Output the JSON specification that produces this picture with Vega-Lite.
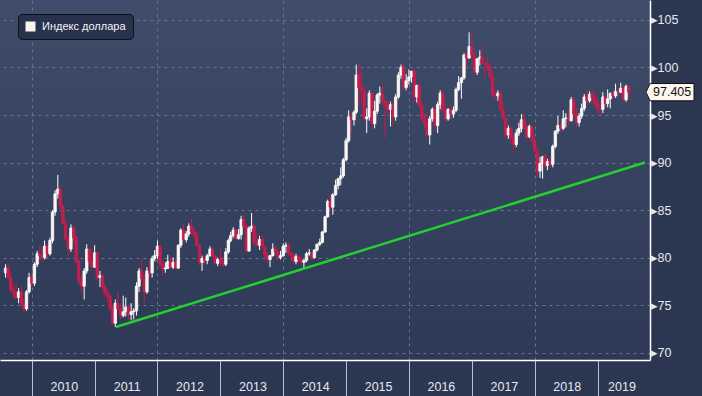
{
  "$schema": "https://vega.github.io/schema/vega-lite/v6.json",
  "width": 650,
  "height": 360,
  "autosize": {"type": "none"},
  "padding": {"left": 0, "top": 0, "right": 52, "bottom": 36},
  "background": "#2b3651",
  "config": {
    "font": "Liberation Sans",
    "view": {"stroke": null, "fill": {"gradient": "linear", "x1": 0, "y1": 0, "x2": 0, "y2": 1, "stops": [{"offset": 0, "color": "#3f4c6a"}, {"offset": 1, "color": "#2d3955"}]}},
    "axisY": {
      "orient": "right", "title": null,
      "values": [70, 72.5, 75, 77.5, 80, 82.5, 85, 87.5, 90, 92.5, 95, 97.5, 100, 102.5, 105],
      "domainColor": "#ffffff", "domainWidth": 1.5,
      "tickColor": "#ffffff",
      "labelPadding": 0,
      "labelFont": "Liberation Sans", "labelFontSize": 12.5, "labelColor": "#e6e9ef",
      "grid": true, "gridDash": [3, 4],
      "labelBound": false, "labelOverlap": false, "labelFlush": false
    }
  },
  "data": {"values": [
    {"d":"2009-08-01","o":78.4,"h":79.3,"l":77.9,"c":78.9},
    {"d":"2009-08-16","o":78.9,"h":79.4,"l":77.6,"c":77.9},
    {"d":"2009-09-01","o":77.9,"h":78.5,"l":76.3,"c":76.6},
    {"d":"2009-09-16","o":76.6,"h":77.2,"l":75.8,"c":76.3},
    {"d":"2009-10-01","o":76.3,"h":77.3,"l":75.6,"c":75.8},
    {"d":"2009-10-16","o":75.8,"h":76.8,"l":75.2,"c":76.4},
    {"d":"2009-11-01","o":76.4,"h":76.9,"l":74.9,"c":75.1},
    {"d":"2009-11-16","o":75.1,"h":75.7,"l":74.2,"c":74.6},
    {"d":"2009-12-01","o":74.6,"h":76.6,"l":74.4,"c":76.4},
    {"d":"2009-12-16","o":76.4,"h":78.4,"l":76.2,"c":77.9},
    {"d":"2010-01-01","o":77.9,"h":78.3,"l":76.9,"c":77.3},
    {"d":"2010-01-16","o":77.3,"h":79.5,"l":77.0,"c":79.3},
    {"d":"2010-02-01","o":79.3,"h":80.7,"l":79.0,"c":80.4},
    {"d":"2010-02-16","o":80.4,"h":81.3,"l":79.8,"c":80.2},
    {"d":"2010-03-01","o":80.2,"h":81.0,"l":79.6,"c":80.0},
    {"d":"2010-03-16","o":80.0,"h":81.8,"l":79.8,"c":81.2},
    {"d":"2010-04-01","o":81.2,"h":81.4,"l":80.0,"c":80.4},
    {"d":"2010-04-16","o":80.4,"h":82.1,"l":80.2,"c":81.8},
    {"d":"2010-05-01","o":81.8,"h":85.0,"l":81.5,"c":84.8},
    {"d":"2010-05-16","o":84.8,"h":87.1,"l":84.4,"c":86.7},
    {"d":"2010-06-01","o":86.7,"h":88.7,"l":86.2,"c":87.2},
    {"d":"2010-06-16","o":87.2,"h":87.5,"l":85.1,"c":85.4},
    {"d":"2010-07-01","o":85.4,"h":85.6,"l":83.4,"c":83.6},
    {"d":"2010-07-16","o":83.6,"h":84.0,"l":81.8,"c":82.0},
    {"d":"2010-08-01","o":82.0,"h":82.3,"l":80.1,"c":80.9},
    {"d":"2010-08-16","o":80.9,"h":83.5,"l":80.6,"c":83.1},
    {"d":"2010-09-01","o":83.1,"h":83.3,"l":81.5,"c":82.1},
    {"d":"2010-09-16","o":82.1,"h":82.4,"l":79.4,"c":79.6},
    {"d":"2010-10-01","o":79.6,"h":79.9,"l":77.2,"c":77.5},
    {"d":"2010-10-16","o":77.5,"h":78.2,"l":76.2,"c":77.0},
    {"d":"2010-11-01","o":77.0,"h":78.9,"l":75.6,"c":78.6},
    {"d":"2010-11-16","o":78.6,"h":81.4,"l":78.3,"c":80.9},
    {"d":"2010-12-01","o":80.9,"h":81.0,"l":79.2,"c":79.6},
    {"d":"2010-12-16","o":79.6,"h":80.9,"l":78.9,"c":79.0},
    {"d":"2011-01-01","o":79.0,"h":81.3,"l":78.9,"c":80.5},
    {"d":"2011-01-16","o":80.5,"h":80.6,"l":77.6,"c":77.9},
    {"d":"2011-02-01","o":77.9,"h":78.6,"l":76.9,"c":78.1},
    {"d":"2011-02-16","o":78.1,"h":78.2,"l":76.7,"c":76.9},
    {"d":"2011-03-01","o":76.9,"h":77.2,"l":75.9,"c":76.3},
    {"d":"2011-03-16","o":76.3,"h":76.8,"l":75.3,"c":75.9},
    {"d":"2011-04-01","o":75.9,"h":76.3,"l":74.4,"c":74.6},
    {"d":"2011-04-16","o":74.6,"h":75.0,"l":72.9,"c":73.1},
    {"d":"2011-05-01","o":73.1,"h":75.6,"l":72.7,"c":75.2},
    {"d":"2011-05-16","o":75.2,"h":76.4,"l":74.5,"c":74.6},
    {"d":"2011-06-01","o":74.6,"h":75.2,"l":73.5,"c":73.9},
    {"d":"2011-06-16","o":73.9,"h":76.0,"l":73.7,"c":74.3},
    {"d":"2011-07-01","o":74.3,"h":75.8,"l":73.8,"c":74.8},
    {"d":"2011-07-16","o":74.8,"h":75.1,"l":73.4,"c":74.0},
    {"d":"2011-08-01","o":74.0,"h":75.2,"l":73.4,"c":74.3},
    {"d":"2011-08-16","o":74.3,"h":74.7,"l":73.5,"c":74.4},
    {"d":"2011-09-01","o":74.4,"h":77.4,"l":73.9,"c":77.0},
    {"d":"2011-09-16","o":77.0,"h":78.9,"l":76.4,"c":78.6},
    {"d":"2011-10-01","o":78.6,"h":79.9,"l":77.6,"c":77.8},
    {"d":"2011-10-16","o":77.8,"h":78.3,"l":75.3,"c":76.4},
    {"d":"2011-11-01","o":76.4,"h":79.0,"l":76.2,"c":78.6},
    {"d":"2011-11-16","o":78.6,"h":79.8,"l":77.9,"c":78.4},
    {"d":"2011-12-01","o":78.4,"h":80.2,"l":77.9,"c":79.9},
    {"d":"2011-12-16","o":79.9,"h":80.8,"l":79.6,"c":80.2},
    {"d":"2012-01-01","o":80.2,"h":81.8,"l":79.9,"c":81.2},
    {"d":"2012-01-16","o":81.2,"h":81.4,"l":78.9,"c":79.3},
    {"d":"2012-02-01","o":79.3,"h":79.6,"l":78.1,"c":78.8},
    {"d":"2012-02-16","o":78.8,"h":79.5,"l":78.4,"c":78.9},
    {"d":"2012-03-01","o":78.9,"h":80.3,"l":78.8,"c":79.6},
    {"d":"2012-03-16","o":79.6,"h":80.1,"l":78.9,"c":79.0},
    {"d":"2012-04-01","o":79.0,"h":80.0,"l":78.8,"c":79.5},
    {"d":"2012-04-16","o":79.5,"h":79.8,"l":78.8,"c":78.9},
    {"d":"2012-05-01","o":78.9,"h":81.4,"l":78.8,"c":81.3},
    {"d":"2012-05-16","o":81.3,"h":83.1,"l":81.0,"c":82.9},
    {"d":"2012-06-01","o":82.9,"h":83.5,"l":81.7,"c":81.9},
    {"d":"2012-06-16","o":81.9,"h":82.8,"l":81.6,"c":82.5},
    {"d":"2012-07-01","o":82.5,"h":83.6,"l":82.2,"c":83.3},
    {"d":"2012-07-16","o":83.3,"h":84.1,"l":82.4,"c":82.7},
    {"d":"2012-08-01","o":82.7,"h":83.2,"l":82.0,"c":82.4},
    {"d":"2012-08-16","o":82.4,"h":82.7,"l":81.1,"c":81.3},
    {"d":"2012-09-01","o":81.3,"h":81.4,"l":79.2,"c":79.5},
    {"d":"2012-09-16","o":79.5,"h":80.2,"l":78.6,"c":79.9},
    {"d":"2012-10-01","o":79.9,"h":80.1,"l":79.3,"c":79.7},
    {"d":"2012-10-16","o":79.7,"h":80.4,"l":79.3,"c":80.2},
    {"d":"2012-11-01","o":80.2,"h":81.2,"l":80.1,"c":80.9},
    {"d":"2012-11-16","o":80.9,"h":81.0,"l":80.0,"c":80.2},
    {"d":"2012-12-01","o":80.2,"h":80.3,"l":79.2,"c":79.4},
    {"d":"2012-12-16","o":79.4,"h":80.0,"l":79.1,"c":79.8},
    {"d":"2013-01-01","o":79.8,"h":80.9,"l":79.1,"c":79.6},
    {"d":"2013-01-16","o":79.6,"h":80.1,"l":79.0,"c":79.3},
    {"d":"2013-02-01","o":79.3,"h":81.0,"l":79.1,"c":80.6},
    {"d":"2013-02-16","o":80.6,"h":82.0,"l":80.4,"c":81.8},
    {"d":"2013-03-01","o":81.8,"h":82.7,"l":81.6,"c":82.3},
    {"d":"2013-03-16","o":82.3,"h":83.2,"l":82.1,"c":82.9},
    {"d":"2013-04-01","o":82.9,"h":83.1,"l":81.9,"c":82.0},
    {"d":"2013-04-16","o":82.0,"h":83.0,"l":81.9,"c":82.4},
    {"d":"2013-05-01","o":82.4,"h":84.4,"l":81.9,"c":84.0},
    {"d":"2013-05-16","o":84.0,"h":84.5,"l":83.1,"c":83.3},
    {"d":"2013-06-01","o":83.3,"h":83.5,"l":80.5,"c":80.7},
    {"d":"2013-06-16","o":80.7,"h":83.3,"l":80.6,"c":83.1},
    {"d":"2013-07-01","o":83.1,"h":84.7,"l":82.7,"c":83.3},
    {"d":"2013-07-16","o":83.3,"h":83.5,"l":81.4,"c":81.6},
    {"d":"2013-08-01","o":81.6,"h":82.6,"l":81.2,"c":81.3},
    {"d":"2013-08-16","o":81.3,"h":82.3,"l":80.8,"c":81.9},
    {"d":"2013-09-01","o":81.9,"h":82.4,"l":80.9,"c":81.1},
    {"d":"2013-09-16","o":81.1,"h":81.3,"l":79.9,"c":80.2},
    {"d":"2013-10-01","o":80.2,"h":80.6,"l":79.6,"c":79.8},
    {"d":"2013-10-16","o":79.8,"h":80.3,"l":79.0,"c":80.2},
    {"d":"2013-11-01","o":80.2,"h":81.5,"l":80.1,"c":80.9},
    {"d":"2013-11-16","o":80.9,"h":81.3,"l":80.4,"c":80.6},
    {"d":"2013-12-01","o":80.6,"h":81.0,"l":79.8,"c":80.0},
    {"d":"2013-12-16","o":80.0,"h":80.7,"l":79.8,"c":80.2},
    {"d":"2014-01-01","o":80.2,"h":81.5,"l":80.1,"c":81.2},
    {"d":"2014-01-16","o":81.2,"h":81.6,"l":80.5,"c":81.3},
    {"d":"2014-02-01","o":81.3,"h":81.5,"l":80.2,"c":80.4},
    {"d":"2014-02-16","o":80.4,"h":80.6,"l":79.7,"c":80.2},
    {"d":"2014-03-01","o":80.2,"h":80.5,"l":79.3,"c":79.6},
    {"d":"2014-03-16","o":79.6,"h":80.4,"l":79.3,"c":80.1},
    {"d":"2014-04-01","o":80.1,"h":80.3,"l":79.4,"c":79.8},
    {"d":"2014-04-16","o":79.8,"h":80.1,"l":79.3,"c":79.5},
    {"d":"2014-05-01","o":79.5,"h":79.9,"l":78.9,"c":79.7},
    {"d":"2014-05-16","o":79.7,"h":80.6,"l":79.5,"c":80.4},
    {"d":"2014-06-01","o":80.4,"h":80.9,"l":80.2,"c":80.5},
    {"d":"2014-06-16","o":80.5,"h":80.6,"l":79.8,"c":80.0},
    {"d":"2014-07-01","o":80.0,"h":80.9,"l":79.9,"c":80.8},
    {"d":"2014-07-16","o":80.8,"h":81.5,"l":80.6,"c":81.4},
    {"d":"2014-08-01","o":81.4,"h":82.0,"l":81.2,"c":81.6},
    {"d":"2014-08-16","o":81.6,"h":82.8,"l":81.5,"c":82.7},
    {"d":"2014-09-01","o":82.7,"h":84.4,"l":82.6,"c":84.3},
    {"d":"2014-09-16","o":84.3,"h":86.1,"l":84.2,"c":85.9},
    {"d":"2014-10-01","o":85.9,"h":86.7,"l":84.9,"c":85.3},
    {"d":"2014-10-16","o":85.3,"h":86.8,"l":84.5,"c":86.6},
    {"d":"2014-11-01","o":86.6,"h":88.2,"l":86.5,"c":87.6},
    {"d":"2014-11-16","o":87.6,"h":88.4,"l":87.2,"c":88.3},
    {"d":"2014-12-01","o":88.3,"h":89.5,"l":87.6,"c":88.6},
    {"d":"2014-12-16","o":88.6,"h":90.5,"l":88.4,"c":90.3},
    {"d":"2015-01-01","o":90.3,"h":92.6,"l":90.1,"c":92.3},
    {"d":"2015-01-16","o":92.3,"h":95.5,"l":92.1,"c":94.8},
    {"d":"2015-02-01","o":94.8,"h":95.2,"l":93.2,"c":94.5},
    {"d":"2015-02-16","o":94.5,"h":95.5,"l":93.9,"c":95.3},
    {"d":"2015-03-01","o":95.3,"h":100.3,"l":95.1,"c":99.2},
    {"d":"2015-03-16","o":99.2,"h":100.4,"l":95.9,"c":97.9},
    {"d":"2015-04-01","o":97.9,"h":100.0,"l":96.4,"c":97.6},
    {"d":"2015-04-16","o":97.6,"h":98.1,"l":94.5,"c":94.6},
    {"d":"2015-05-01","o":94.6,"h":95.7,"l":93.1,"c":94.8},
    {"d":"2015-05-16","o":94.8,"h":97.6,"l":94.4,"c":97.3},
    {"d":"2015-06-01","o":97.3,"h":97.4,"l":93.9,"c":94.1},
    {"d":"2015-06-16","o":94.1,"h":96.5,"l":93.6,"c":95.4},
    {"d":"2015-07-01","o":95.4,"h":97.3,"l":95.1,"c":97.1},
    {"d":"2015-07-16","o":97.1,"h":98.0,"l":96.2,"c":97.3},
    {"d":"2015-08-01","o":97.3,"h":98.3,"l":96.0,"c":96.5},
    {"d":"2015-08-16","o":96.5,"h":96.6,"l":92.6,"c":95.9},
    {"d":"2015-09-01","o":95.9,"h":96.5,"l":94.9,"c":95.6},
    {"d":"2015-09-16","o":95.6,"h":96.4,"l":93.8,"c":96.1},
    {"d":"2015-10-01","o":96.1,"h":96.3,"l":94.0,"c":94.8},
    {"d":"2015-10-16","o":94.8,"h":97.2,"l":94.4,"c":96.9},
    {"d":"2015-11-01","o":96.9,"h":99.5,"l":96.7,"c":99.2},
    {"d":"2015-11-16","o":99.2,"h":100.3,"l":98.8,"c":100.0},
    {"d":"2015-12-01","o":100.0,"h":100.5,"l":97.7,"c":97.9},
    {"d":"2015-12-16","o":97.9,"h":99.3,"l":97.6,"c":98.6},
    {"d":"2016-01-01","o":98.6,"h":99.8,"l":98.2,"c":99.0},
    {"d":"2016-01-16","o":99.0,"h":99.6,"l":98.4,"c":99.6},
    {"d":"2016-02-01","o":99.6,"h":99.9,"l":96.3,"c":96.9},
    {"d":"2016-02-16","o":96.9,"h":98.2,"l":96.3,"c":98.1},
    {"d":"2016-03-01","o":98.1,"h":98.3,"l":95.8,"c":96.0},
    {"d":"2016-03-16","o":96.0,"h":96.3,"l":94.5,"c":94.6},
    {"d":"2016-04-01","o":94.6,"h":95.1,"l":93.6,"c":94.1},
    {"d":"2016-04-16","o":94.1,"h":95.3,"l":92.6,"c":92.9},
    {"d":"2016-05-01","o":92.9,"h":94.9,"l":91.9,"c":94.6},
    {"d":"2016-05-16","o":94.6,"h":95.8,"l":94.3,"c":95.6},
    {"d":"2016-06-01","o":95.6,"h":95.9,"l":93.4,"c":93.9},
    {"d":"2016-06-16","o":93.9,"h":96.4,"l":93.1,"c":96.1},
    {"d":"2016-07-01","o":96.1,"h":97.6,"l":95.6,"c":97.3},
    {"d":"2016-07-16","o":97.3,"h":97.6,"l":95.3,"c":95.5},
    {"d":"2016-08-01","o":95.5,"h":96.2,"l":94.4,"c":94.6},
    {"d":"2016-08-16","o":94.6,"h":95.7,"l":94.4,"c":95.6},
    {"d":"2016-09-01","o":95.6,"h":96.0,"l":94.5,"c":95.1},
    {"d":"2016-09-16","o":95.1,"h":95.9,"l":94.7,"c":95.5},
    {"d":"2016-10-01","o":95.5,"h":97.9,"l":95.3,"c":97.7},
    {"d":"2016-10-16","o":97.7,"h":99.1,"l":97.5,"c":98.4},
    {"d":"2016-11-01","o":98.4,"h":99.0,"l":96.7,"c":98.9},
    {"d":"2016-11-16","o":98.9,"h":101.5,"l":98.7,"c":101.3},
    {"d":"2016-12-01","o":101.3,"h":101.6,"l":99.9,"c":101.0},
    {"d":"2016-12-16","o":101.0,"h":103.7,"l":100.9,"c":102.2},
    {"d":"2017-01-01","o":102.2,"h":103.8,"l":100.9,"c":101.3},
    {"d":"2017-01-16","o":101.3,"h":101.6,"l":99.2,"c":99.5},
    {"d":"2017-02-01","o":99.5,"h":101.0,"l":99.2,"c":100.9},
    {"d":"2017-02-16","o":100.9,"h":101.8,"l":100.2,"c":101.1},
    {"d":"2017-03-01","o":101.1,"h":102.3,"l":100.4,"c":100.5},
    {"d":"2017-03-16","o":100.5,"h":100.6,"l":98.8,"c":100.4},
    {"d":"2017-04-01","o":100.4,"h":101.2,"l":99.8,"c":100.1},
    {"d":"2017-04-16","o":100.1,"h":100.5,"l":98.9,"c":99.0},
    {"d":"2017-05-01","o":99.0,"h":99.6,"l":96.9,"c":97.2},
    {"d":"2017-05-16","o":97.2,"h":97.6,"l":96.8,"c":97.0},
    {"d":"2017-06-01","o":97.0,"h":97.6,"l":96.5,"c":97.3},
    {"d":"2017-06-16","o":97.3,"h":97.4,"l":95.4,"c":95.6},
    {"d":"2017-07-01","o":95.6,"h":96.4,"l":94.5,"c":94.7},
    {"d":"2017-07-16","o":94.7,"h":94.9,"l":92.6,"c":92.9},
    {"d":"2017-08-01","o":92.9,"h":93.9,"l":92.5,"c":93.6},
    {"d":"2017-08-16","o":93.6,"h":93.8,"l":91.9,"c":92.6},
    {"d":"2017-09-01","o":92.6,"h":92.9,"l":91.0,"c":91.9},
    {"d":"2017-09-16","o":91.9,"h":93.5,"l":91.6,"c":93.1},
    {"d":"2017-10-01","o":93.1,"h":94.2,"l":92.8,"c":93.6},
    {"d":"2017-10-16","o":93.6,"h":95.1,"l":93.2,"c":94.5},
    {"d":"2017-11-01","o":94.5,"h":95.2,"l":93.4,"c":93.6},
    {"d":"2017-11-16","o":93.6,"h":93.9,"l":92.5,"c":92.7},
    {"d":"2017-12-01","o":92.7,"h":94.0,"l":92.6,"c":93.8},
    {"d":"2017-12-16","o":93.8,"h":94.0,"l":92.1,"c":92.3},
    {"d":"2018-01-01","o":92.3,"h":92.7,"l":91.0,"c":91.3},
    {"d":"2018-01-16","o":91.3,"h":91.6,"l":88.5,"c":89.1},
    {"d":"2018-02-01","o":89.1,"h":90.6,"l":88.4,"c":89.9},
    {"d":"2018-02-16","o":89.9,"h":90.7,"l":88.3,"c":90.6},
    {"d":"2018-03-01","o":90.6,"h":90.9,"l":89.4,"c":89.7},
    {"d":"2018-03-16","o":89.7,"h":90.4,"l":89.2,"c":90.1},
    {"d":"2018-04-01","o":90.1,"h":90.6,"l":89.4,"c":89.8},
    {"d":"2018-04-16","o":89.8,"h":91.9,"l":89.5,"c":91.7},
    {"d":"2018-05-01","o":91.7,"h":93.4,"l":91.5,"c":93.3},
    {"d":"2018-05-16","o":93.3,"h":94.9,"l":93.0,"c":93.9},
    {"d":"2018-06-01","o":93.9,"h":94.1,"l":93.2,"c":93.6},
    {"d":"2018-06-16","o":93.6,"h":95.5,"l":93.4,"c":94.6},
    {"d":"2018-07-01","o":94.6,"h":95.2,"l":93.7,"c":94.7},
    {"d":"2018-07-16","o":94.7,"h":95.6,"l":94.0,"c":94.4},
    {"d":"2018-08-01","o":94.4,"h":96.9,"l":94.3,"c":96.6},
    {"d":"2018-08-16","o":96.6,"h":96.9,"l":94.8,"c":95.1},
    {"d":"2018-09-01","o":95.1,"h":95.8,"l":93.8,"c":94.2},
    {"d":"2018-09-16","o":94.2,"h":95.2,"l":93.8,"c":94.9},
    {"d":"2018-10-01","o":94.9,"h":96.2,"l":94.6,"c":95.7},
    {"d":"2018-10-16","o":95.7,"h":97.2,"l":95.4,"c":96.9},
    {"d":"2018-11-01","o":96.9,"h":97.7,"l":96.1,"c":96.5},
    {"d":"2018-11-16","o":96.5,"h":97.5,"l":96.3,"c":97.2},
    {"d":"2018-12-01","o":97.2,"h":97.7,"l":96.4,"c":96.8},
    {"d":"2018-12-16","o":96.8,"h":97.4,"l":95.8,"c":96.2},
    {"d":"2019-01-01","o":96.2,"h":96.9,"l":95.0,"c":95.8},
    {"d":"2019-01-16","o":95.8,"h":96.4,"l":95.1,"c":95.6},
    {"d":"2019-02-01","o":95.6,"h":97.4,"l":95.2,"c":96.9},
    {"d":"2019-02-16","o":96.9,"h":97.0,"l":95.9,"c":96.2},
    {"d":"2019-03-01","o":96.2,"h":97.7,"l":95.8,"c":96.7},
    {"d":"2019-03-16","o":96.7,"h":97.3,"l":95.7,"c":97.3},
    {"d":"2019-04-01","o":97.3,"h":97.5,"l":96.7,"c":97.0},
    {"d":"2019-04-16","o":97.0,"h":98.3,"l":96.8,"c":97.5},
    {"d":"2019-05-01","o":97.5,"h":98.0,"l":97.0,"c":97.4},
    {"d":"2019-05-16","o":97.4,"h":98.4,"l":97.3,"c":97.8},
    {"d":"2019-06-01","o":97.8,"h":98.0,"l":96.5,"c":96.6},
    {"d":"2019-06-16","o":96.6,"h":98.2,"l":96.4,"c":98.0},
    {"d":"2019-07-01","o":98.0,"h":98.1,"l":96.9,"c":97.4}
  ]},
  "encoding": {
    "x": {
      "field": "d", "type": "temporal",
      "scale": {"domain": [{"year": 2009, "month": 7, "date": 29}, {"year": 2019, "month": 10, "date": 4}]},
      "axis": {
        "title": null, "format": "%Y",
        "values": [{"year":2010,"month":1,"date":1},{"year":2011,"month":1,"date":1},{"year":2012,"month":1,"date":1},{"year":2013,"month":1,"date":1},{"year":2014,"month":1,"date":1},{"year":2015,"month":1,"date":1},{"year":2016,"month":1,"date":1},{"year":2017,"month":1,"date":1},{"year":2018,"month":1,"date":1},{"year":2019,"month":1,"date":1}],
        "domainColor": "#ffffff", "domainWidth": 1.5,
        "tickColor": "#b9bfcb", "tickSize": 36, "tickWidth": 1,
        "labelAlign": "center", "labelBaseline": "alphabetic", "labelPadding": -6,
        "labelOffset": {"condition": {"test": "year(datum.value) == 2019", "value": 24}, "value": 32},
        "labelFont": "Liberation Sans", "labelFontSize": 12.5, "labelColor": "#e6e9ef",
        "grid": true, "gridDash": [3, 4],
        "gridColor": {"condition": {"test": "year(datum.value) % 2 == 1", "value": "transparent"}, "value": "#67738f"},
        "labelBound": false, "labelOverlap": false, "labelFlush": false
      }
    },
    "y": {
      "field": "l", "type": "quantitative",
      "scale": {"domain": [69.23, 107.1], "nice": false, "zero": false},
      "axis": {
        "labelExpr": "datum.value % 5 == 0 ? '▸' + datum.value : ''",
        "tickSize": {"condition": {"test": "datum.value % 5 != 0", "value": 4}, "value": 0},
        "gridColor": {"condition": {"test": "datum.value % 5 != 0", "value": "transparent"}, "value": "#67738f"}
      }
    }
  },
  "layer": [
    {
      "mark": {"type": "rule", "strokeWidth": 1},
      "encoding": {
        "y2": {"field": "h"},
        "color": {"condition": {"test": "datum.c < datum.o", "value": "#c81d4e"}, "value": "#ffffff"}
      }
    },
    {
      "mark": {"type": "bar", "width": 2.4, "strokeWidth": 0.8},
      "encoding": {
        "y": {"field": "o", "type": "quantitative"},
        "y2": {"field": "c"},
        "stroke": {"condition": {"test": "datum.c < datum.o", "value": "#c81d4e"}, "value": "#ffffff"},
        "fill": {
          "condition": {"test": "datum.c < datum.o", "value": "#c81d4e"},
          "datum": "Индекс доллара", "type": "nominal",
          "scale": {"range": ["#fdf4ee"]},
          "legend": {
            "title": null, "orient": "none", "legendX": 18, "legendY": 14,
            "padding": 7, "fillColor": "#28324c", "strokeColor": "#0d0f14", "cornerRadius": 4,
            "symbolType": "square", "symbolSize": 100, "symbolStrokeWidth": 0,
            "labelFont": "Liberation Sans", "labelFontSize": 11, "labelColor": "#f2f2f2", "labelOffset": 6
          }
        }
      }
    },
    {
      "data": {"values": [{"d": "2011-05-04", "v": 72.7}, {"d": "2019-10-04", "v": 90}]},
      "mark": {"type": "line", "color": "#22d12e", "strokeWidth": 2.5},
      "encoding": {
        "y": {"field": "v", "type": "quantitative"}
      }
    },
    {
      "data": {"values": [{"d": "2019-10-04", "v": 97.405}]},
      "encoding": {
        "y": {"field": "v", "type": "quantitative"}
      },
      "layer": [
        {
          "mark": {"type": "point", "shape": "M-1,0L-0.83,-0.36L1,-0.36L1,0.36L-0.83,0.36Z", "size": 2304, "filled": true, "fill": "#fdf6ec", "stroke": "#111111", "strokeWidth": 1, "opacity": 1, "xOffset": 25}
        },
        {
          "mark": {"type": "text", "align": "left", "baseline": "middle", "dx": 8, "font": "Liberation Sans", "fontSize": 12.5, "color": "#111111"},
          "encoding": {"text": {"field": "v", "type": "quantitative", "format": ".3f"}}
        }
      ]
    }
  ]
}
